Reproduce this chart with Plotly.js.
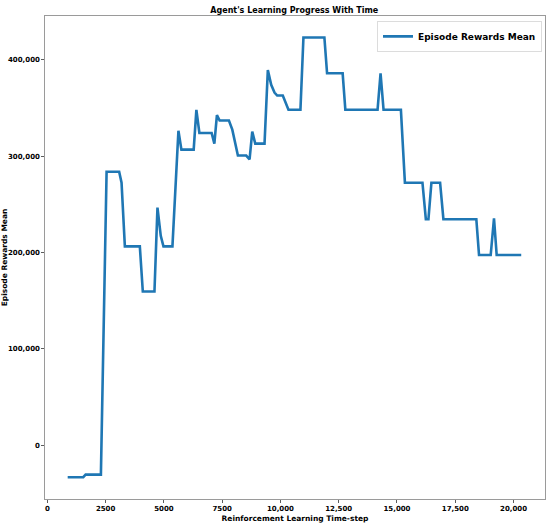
<!DOCTYPE html>
<html>
<head>
<meta charset="utf-8">
<script src="https://cdn.plot.ly/plotly-3.0.1.min.js"></script>
<style>html,body{margin:0;padding:0;background:#fff}#chart{width:550px;height:523px}</style>
</head>
<body>
<div id="chart"></div>
<script>
const timeSteps = [873,1541,1643,2298,2542,3082,3184,3326,3968,4096,4596,4725,4866,4982,5367,5624,5752,6279,6394,6523,7049,7165,7276,7392,7790,7935,8175,8534,8676,8791,8920,9318,9460,9604,9746,9861,10101,10345,10858,10987,11886,12001,12669,12785,14167,14295,14424,15168,15340,16093,16238,16349,16477,16850,16992,18404,18520,19020,19162,19277,20330];
const rewardsMean = [-33400,-33400,-30700,-30700,283800,283800,272400,206300,206300,159400,159400,246600,217200,206300,206300,326400,306800,306800,348100,324000,324000,313000,342600,337000,337000,327500,300600,300600,296500,325400,313000,313000,389400,374000,366000,362900,362900,348100,348100,423200,423200,386000,386000,348100,348100,386000,348100,348100,272400,272400,234500,234500,272400,272400,234500,234500,197300,197300,235500,197300,197300];
const xTickVals = [0,2500,5000,7500,10000,12500,15000,17500,20000];
const xTickText = ["0","2500","5000","7500","10,000","12,500","15,000","17,500","20,000"];
const yTickVals = [0,100000,200000,300000,400000];
const yTickText = ["0","100,000","200,000","300,000","400,000"];

const F = "DejaVu Sans, Arial, sans-serif";
const trace = {
  x: timeSteps, y: rewardsMean, type: 'scatter', mode: 'lines',
  name: 'Episode Rewards Mean',
  line: {color: '#1f77b4', width: 2.6}
};
const axisCommon = {
  showgrid: false, zeroline: false, showline: true, mirror: true,
  linecolor: '#9a9a9a', linewidth: 1.2,
  ticks: 'outside', ticklen: 2.5, tickwidth: 0.8, tickcolor: '#333',
  tickfont: {family: F, size: 7, color: '#000', weight: 'bold'}
};
const layout = {
  width: 550, height: 523,
  margin: {l: 45, r: 5, t: 16, b: 24},
  paper_bgcolor: '#fff', plot_bgcolor: '#fff',
  title: {text: "Agent's Learning Progress With Time", font: {family: F, size: 8, color: '#000', weight: 'bold'},
          x: 0.535, xanchor: 'center', yref: 'container', y: 1 - 10/523, yanchor: 'middle'},
  xaxis: Object.assign({}, axisCommon, {
    range: [-100, 21350], tickvals: xTickVals, ticktext: xTickText,
    title: {text: 'Reinforcement Learning Time-step', font: {family: F, size: 7.5, color: '#000', weight: 'bold'}, standoff: 4}
  }),
  yaxis: Object.assign({}, axisCommon, {
    range: [-56000, 445500], tickvals: yTickVals, ticktext: yTickText,
    title: {text: 'Episode Rewards Mean', font: {family: F, size: 7.5, color: '#000', weight: 'bold'}, standoff: 3}
  }),
  showlegend: true,
  legend: {x: 0.994, y: 0.99, xanchor: 'right', yanchor: 'top',
           bgcolor: 'rgba(255,255,255,0.8)', bordercolor: '#dcdcdc', borderwidth: 1,
           itemwidth: 30, tracegroupgap: 0,
           font: {family: F, size: 9, color: '#000', weight: 'bold'}}
};
Plotly.newPlot('chart', [trace], layout, {displayModeBar: false, staticPlot: true});
</script>
</body>
</html>
